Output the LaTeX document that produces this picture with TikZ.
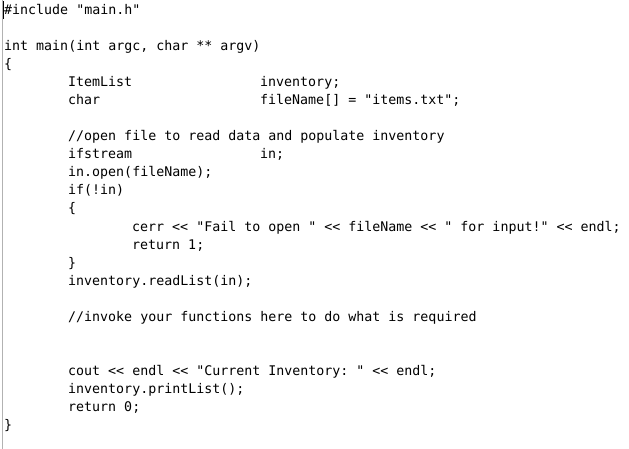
\documentclass[tikz,border=0pt]{standalone}
\usepackage{fontspec}
\setmonofont{DejaVu Sans Mono}
\begin{document}
\begin{tikzpicture}[x=1pt,y=-1pt,
  code/.style={anchor=base west,inner sep=0pt,font=\ttfamily\fontsize{13.3}{16}\selectfont}]
\useasboundingbox (0,0) rectangle (629,449);
\fill[white] (0,0) rectangle (629,449);
\draw[gray!60,line width=0.8pt] (2.5,0) -- (2.5,449);
\draw[black,line width=1pt] (3.5,1) -- (3.5,19);
\newcommand{\cl}[4]{\node[code] (#1) at ({4+8*#2},{15+18*#3}) {#4};}
\cl{l0}{0}{0}{\#include "main.h"}
\cl{l2}{0}{2}{int main(int argc, char ** argv)}
\cl{l3}{0}{3}{\{}
\cl{l4a}{8}{4}{ItemList}
\cl{l4b}{32}{4}{inventory;}
\cl{l5a}{8}{5}{char}
\cl{l5b}{32}{5}{fileName[] = "items.txt";}
\cl{l7}{8}{7}{//open file to read data and populate inventory}
\cl{l8a}{8}{8}{ifstream}
\cl{l8b}{32}{8}{in;}
\cl{l9}{8}{9}{in.open(fileName);}
\cl{l10}{8}{10}{if(!in)}
\cl{l11}{8}{11}{\{}
\cl{l12}{16}{12}{cerr << "Fail to open " << fileName << " for input!" << endl;}
\cl{l13}{16}{13}{return 1;}
\cl{l14}{8}{14}{\}}
\cl{l15}{8}{15}{inventory.readList(in);}
\cl{l17}{8}{17}{//invoke your functions here to do what is required}
\cl{l20}{8}{20}{cout << endl << "Current Inventory: " << endl;}
\cl{l21}{8}{21}{inventory.printList();}
\cl{l22}{8}{22}{return 0;}
\cl{l23}{0}{23}{\}}
\end{tikzpicture}
\end{document}
